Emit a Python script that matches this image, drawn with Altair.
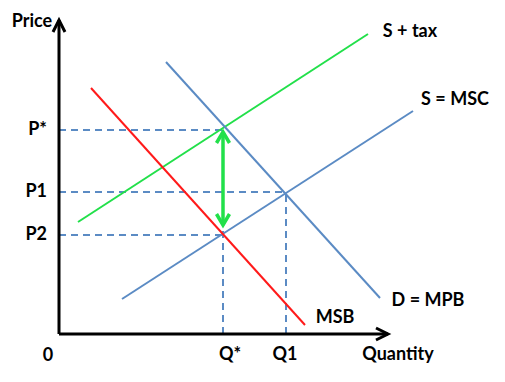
import altair as alt
import pandas as pd

# ---- data (chart units: quantity on x, price on y) ----
curve_names = ["S + tax", "S = MSC", "D = MPB", "MSB"]
curve_q_start = [1.9, 6.3, 10.7, 3.2]
curve_p_start = [11.2, 3.5, 27.2, 24.6]
curve_q_end = [30.9, 35.4, 32.1, 24.6]
curve_p_end = [30.0, 22.3, 3.6, 0.9]
curve_colors = ["#22E04A", "#5B8BC4", "#5B8BC4", "#FF1A1A"]
curve_label_q = [35.1, 39.6, 36.9, 27.6]
curve_label_p = [30.2, 23.4, 3.3, 1.6]

price_labels = ["P*", "P1", "P2"]
price_values = [20.4, 14.2, 9.9]
price_line_q_end = [16.4, 22.7, 16.4]

quantity_labels = ["Q*", "Q1"]
quantity_values = [16.4, 22.7]
quantity_line_p_end = [20.4, 14.2]
quantity_label_q = [17.1, 22.6]

tax_arrow_q = 16.4
tax_arrow_p = [20.2, 10.9]

axis_q_max = 32.9
axis_p_max = 31.4
axis_titles = ["Price", "Quantity", "0"]
axis_title_q = [-2.7, 33.9, -1.1]
axis_title_p = [31.2, -2.1, -2.2]

# ---- build tables ----
curves = []
for i, n in enumerate(curve_names):
    curves.append({"curve": n, "q": curve_q_start[i], "p": curve_p_start[i], "ord": 0})
    curves.append({"curve": n, "q": curve_q_end[i], "p": curve_p_end[i], "ord": 1})
curves = pd.DataFrame(curves)

dashed = []
for i, v in enumerate(price_values):
    dashed += [{"seg": "h" + str(i), "q": 0, "p": v, "ord": 0},
               {"seg": "h" + str(i), "q": price_line_q_end[i], "p": v, "ord": 1}]
for i, v in enumerate(quantity_values):
    dashed += [{"seg": "v" + str(i), "q": v, "p": 0, "ord": 0},
               {"seg": "v" + str(i), "q": v, "p": quantity_line_p_end[i], "ord": 1}]
dashed = pd.DataFrame(dashed)

hw, hd = 0.6, 1.2
axes = pd.DataFrame([
    {"seg": "y", "q": 0, "p": 0, "ord": 0},
    {"seg": "y", "q": 0, "p": axis_p_max, "ord": 1},
    {"seg": "x", "q": 0, "p": 0, "ord": 0},
    {"seg": "x", "q": axis_q_max, "p": 0, "ord": 1},
    {"seg": "yh", "q": -hw, "p": axis_p_max - hd, "ord": 0},
    {"seg": "yh", "q": 0, "p": axis_p_max, "ord": 1},
    {"seg": "yh", "q": hw, "p": axis_p_max - hd, "ord": 2},
    {"seg": "xh", "q": axis_q_max - hd, "p": hw, "ord": 0},
    {"seg": "xh", "q": axis_q_max, "p": 0, "ord": 1},
    {"seg": "xh", "q": axis_q_max - hd, "p": -hw, "ord": 2},
])

top, bot = max(tax_arrow_p), min(tax_arrow_p)
ah_w, ah_d = 0.65, 1.1
arrow = pd.DataFrame([
    {"seg": "shaft", "q": tax_arrow_q, "p": top - 0.2, "ord": 0},
    {"seg": "shaft", "q": tax_arrow_q, "p": bot + 0.2, "ord": 1},
    {"seg": "th", "q": tax_arrow_q - ah_w, "p": top - ah_d, "ord": 0},
    {"seg": "th", "q": tax_arrow_q, "p": top, "ord": 1},
    {"seg": "th", "q": tax_arrow_q + ah_w, "p": top - ah_d, "ord": 2},
    {"seg": "bh", "q": tax_arrow_q - ah_w, "p": bot + ah_d, "ord": 0},
    {"seg": "bh", "q": tax_arrow_q, "p": bot, "ord": 1},
    {"seg": "bh", "q": tax_arrow_q + ah_w, "p": bot + ah_d, "ord": 2},
])

labels = []
for i, n in enumerate(curve_names):
    labels.append({"text": n, "q": curve_label_q[i], "p": curve_label_p[i]})
for i, n in enumerate(quantity_labels):
    labels.append({"text": n, "q": quantity_label_q[i], "p": -2.1})
for i, n in enumerate(axis_titles):
    labels.append({"text": n, "q": axis_title_q[i], "p": axis_title_p[i]})
labels = pd.DataFrame(labels)

plabels = pd.DataFrame({"text": price_labels, "q": [0] * 3, "p": price_values})

xs = alt.Scale(domain=[-5.1, 43.8], nice=False, zero=False)
ys = alt.Scale(domain=[-4.0, 32.6], nice=False, zero=False)
X = alt.X("q:Q", scale=xs, axis=None)
Y = alt.Y("p:Q", scale=ys, axis=None)

dash_layer = alt.Chart(dashed).mark_line(strokeDash=[7, 5], strokeWidth=2, color="#5B8BC4").encode(
    x=X, y=Y, detail="seg:N", order="ord:Q")
curve_layer = alt.Chart(curves).mark_line(strokeWidth=2).encode(
    x=X, y=Y, detail="curve:N", order="ord:Q",
    color=alt.Color("curve:N", scale=alt.Scale(domain=curve_names, range=curve_colors), legend=None))
axis_layer = alt.Chart(axes).mark_line(strokeWidth=3, color="black", strokeJoin="miter").encode(
    x=X, y=Y, detail="seg:N", order="ord:Q")
arrow_layer = alt.Chart(arrow).mark_line(strokeWidth=3.5, color="#22E04A", strokeJoin="miter").encode(
    x=X, y=Y, detail="seg:N", order="ord:Q")
text_layer = alt.Chart(labels).mark_text(font="Lato", fontWeight="bold", fontSize=18,
                                         align="center", baseline="middle", color="black").encode(
    x=X, y=Y, text="text:N")
ptext_layer = alt.Chart(plabels).mark_text(font="Lato", fontWeight="bold", fontSize=18,
                                           align="right", baseline="middle", dx=-12, color="black").encode(
    x=X, y=Y, text="text:N")

chart = alt.layer(dash_layer, curve_layer, axis_layer, arrow_layer, text_layer, ptext_layer).properties(
    width=489, height=366, autosize=alt.AutoSizeParams(type="none"), padding=0,
    background="white"
).configure_view(stroke=None)

chart.save("out.html", embed_options={"renderer": "svg", "actions": False})
